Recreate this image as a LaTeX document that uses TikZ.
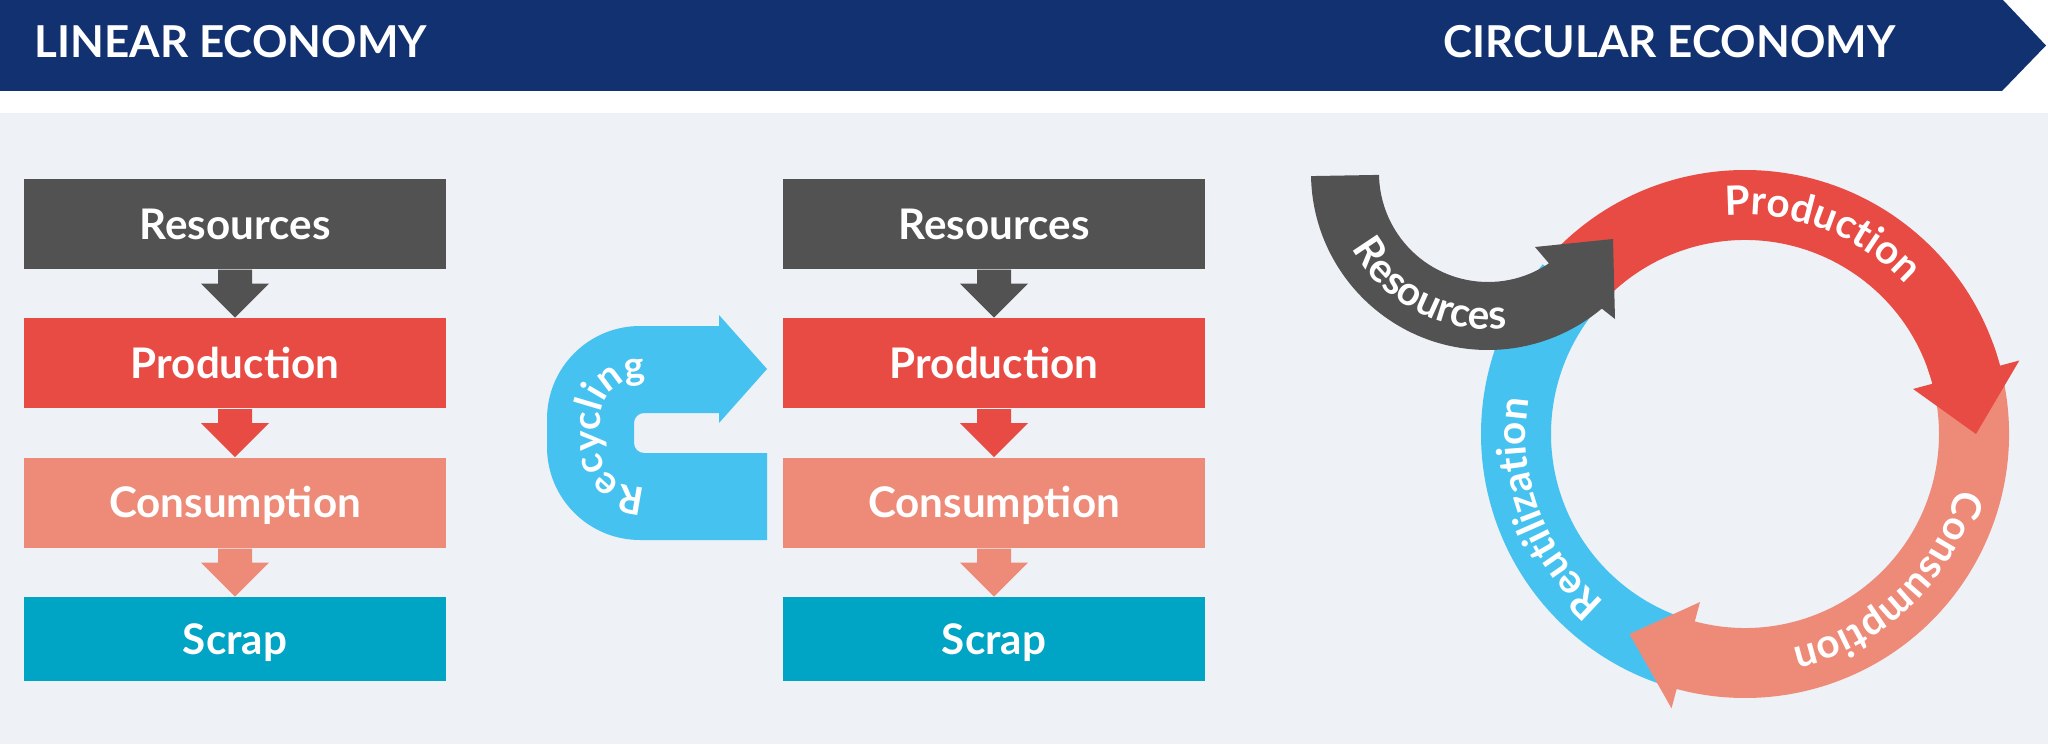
\documentclass[tikz,border=0pt]{standalone}
\usepackage{fontspec}
\setmainfont{Lato}
\usetikzlibrary{positioning,calc,decorations.text}
\definecolor{navycolor}{RGB}{18,49,112}
\definecolor{panelcolor}{RGB}{238,241,246}
\definecolor{rescolor}{RGB}{82,82,82}
\definecolor{prodcolor}{RGB}{232,75,67}
\definecolor{conscolor}{RGB}{238,138,120}
\definecolor{scrapcolor}{RGB}{0,164,196}
\definecolor{recyccolor}{RGB}{70,194,240}
\tikzset{
  stagebox/.style={fill=#1,minimum width=4.22cm,minimum height=0.9cm,inner sep=0pt,
    text=white,text height=8.6pt,text depth=0pt,font=\fontsize{12}{14}\selectfont\bfseries},
  headlabel/.style={anchor=west,inner sep=0pt,text=white,text height=9pt,text depth=0pt,
    font=\fontsize{12.5}{15}\selectfont\bfseries},
  ringlabel/.style 2 args={decorate,decoration={text along path,text align=center,
    text color=white,text={|\fontsize{#2}{#2}\selectfont\bfseries|#1}}},
}
\newcommand{\flowdown}[3]{%
  \fill[#3] ([xshift=-1.7mm]#1.south) -- ++(0,-1.4mm) -- ++(-1.7mm,0) -- (#2.north)
    -- ([xshift=3.4mm,yshift=-1.4mm]#1.south) -- ++(-1.7mm,0) -- ([xshift=1.7mm]#1.south) -- cycle;}
\newcommand{\ringarrow}[4]{%
  \fill[#1] ($(ring)+(#2:2.64)$) arc[start angle=#2,end angle=#3,radius=2.64]
    -- ($(ring)+(#3:2.84)$) -- ($(ring)+(#4:2.31)$) -- ($(ring)+(#3:1.74)$)
    -- ($(ring)+(#3:1.94)$) arc[start angle=#3,end angle=#2,radius=1.94] -- cycle;}
\begin{document}
\begin{tikzpicture}[x=1cm,y=1cm]
  \useasboundingbox (0,0) rectangle (20.48,7.44);
  \fill[white] (0,0) rectangle (20.48,7.44);
  \fill[panelcolor] (0,0) rectangle (20.48,6.31);
  \fill[navycolor] (0,6.53) -- (20.02,6.53) -- (20.46,6.985) -- (20.03,7.44) -- (0,7.44) -- cycle;
  \node[headlabel] (linhead) at (0.34,7.02) {LINEAR ECONOMY};
  \node[headlabel] (circhead) at (14.43,7.02) {CIRCULAR ECONOMY};

  \node[stagebox=rescolor] (lres) at (2.35,5.20) {Resources};
  \node[stagebox=prodcolor,below=0.48cm of lres] (lprod) {Production};
  \node[stagebox=conscolor,below=0.48cm of lprod] (lcons) {Consumption};
  \node[stagebox=scrapcolor,minimum height=0.84cm,below=0.48cm of lcons] (lscrap) {Scrap};
  \flowdown{lres}{lprod}{rescolor}
  \flowdown{lprod}{lcons}{prodcolor}
  \flowdown{lcons}{lscrap}{conscolor}

  \node[stagebox=rescolor] (mres) at (9.94,5.20) {Resources};
  \node[stagebox=prodcolor,below=0.48cm of mres] (mprod) {Production};
  \node[stagebox=conscolor,below=0.48cm of mprod] (mcons) {Consumption};
  \node[stagebox=scrapcolor,minimum height=0.84cm,below=0.48cm of mcons] (mscrap) {Scrap};
  \flowdown{mres}{mprod}{rescolor}
  \flowdown{mprod}{mcons}{prodcolor}
  \flowdown{mcons}{mscrap}{conscolor}

  \fill[recyccolor] (7.67,2.04) -- (6.40,2.04) arc[start angle=270,end angle=180,radius=0.93]
    -- (5.47,3.25) arc[start angle=180,end angle=90,radius=0.93] -- (7.19,4.18) -- (7.19,4.29)
    -- (7.67,3.75) -- (7.19,3.21) -- (7.19,3.31) -- (6.44,3.31) arc[start angle=90,end angle=180,radius=0.1]
    -- (6.34,3.01) arc[start angle=180,end angle=270,radius=0.1] -- (7.67,2.91) -- cycle;
  \path[ringlabel={Recycling}{11}] ($(6.40,2.97)+(290:0.40)$) arc[start angle=290,end angle=180,radius=0.40]
    -- (6.00,3.25) arc[start angle=180,end angle=70,radius=0.40];

  \coordinate (ring) at (17.45,3.10);
  \fill[recyccolor] ($(ring)+(-105:2.64)$) arc[start angle=-105,end angle=-220,radius=2.64]
    -- ($(ring)+(-220:1.94)$) arc[start angle=-220,end angle=-105,radius=1.94] -- cycle;
  \ringarrow{conscolor}{20}{-105}{-120}
  \ringarrow{prodcolor}{135}{15}{0}

  \coordinate (rescurve) at (14.88,5.71);
  \fill[rescolor] ($(rescurve)+(181:1.77)$) arc[start angle=181,end angle=310,radius=1.77]
    -- (16.15,4.25) -- (16.13,5.05) -- (15.35,4.97)
    -- ($(rescurve)+(304:1.09)$) arc[start angle=304,end angle=181,radius=1.09] -- cycle;

  \path[ringlabel={Production}{11.5}] ($(ring)+(110:2.19)$) arc[start angle=110,end angle=28,radius=2.19];
  \path[ringlabel={Consumption}{11.5}] ($(ring)+(-4:2.19)$) arc[start angle=-4,end angle=-88,radius=2.19];
  \path[ringlabel={Reutilization}{11.5}] ($(ring)+(242:2.19)$) arc[start angle=242,end angle=159,radius=2.19];
  \path[ringlabel={Resources}{11.5}] ($(rescurve)+(198:1.56)$) arc[start angle=198,end angle=288,radius=1.56];
\end{tikzpicture}
\end{document}
